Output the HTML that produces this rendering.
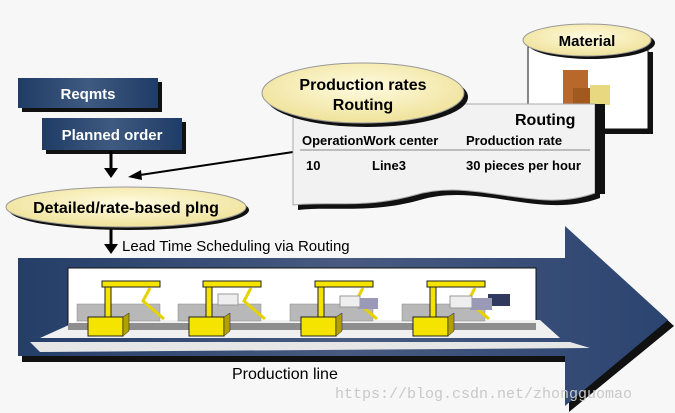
<!DOCTYPE html>
<html><head><style>body{margin:0;background:#f7f7f7}svg{display:block}text{font-family:"Liberation Sans",Arial,sans-serif}</style></head><body>
<svg width="675" height="413" viewBox="0 0 675 413">
<defs>
<linearGradient id="bl" x1="0" y1="0" x2="1" y2="0"><stop offset="0" stop-color="#1f3c66"/><stop offset="0.5" stop-color="#3f5a80"/><stop offset="1" stop-color="#1f3c66"/></linearGradient>
<linearGradient id="ar" x1="0" y1="0" x2="1" y2="0"><stop offset="0" stop-color="#243e68"/><stop offset="0.5" stop-color="#485a80"/><stop offset="1" stop-color="#2b4470"/></linearGradient>
<radialGradient id="el" cx="0.5" cy="0.4" r="0.6"><stop offset="0" stop-color="#fffbe0"/><stop offset="1" stop-color="#efe29a"/></radialGradient>
<g id="robot">
<rect x="-25" y="24" width="83" height="17" fill="#b8b8b8" stroke="#888" stroke-width="0.5"/>
<rect x="-14" y="37" width="35" height="19" fill="#f5e400" stroke="#222"/>
<polygon points="21,37 27,33 27,51 21,56" fill="#b0a000" stroke="#222" stroke-width="0.5"/>
<rect x="3" y="7" width="6" height="30" fill="#f5e400" stroke="#222"/>
<rect x="0" y="1" width="58" height="6" fill="#f5e400" stroke="#222"/>
<polyline points="48,8 41,21 62,39" fill="none" stroke="#e6d200" stroke-width="3"/>
</g>
</defs>
<rect width="675" height="413" fill="#f7f7f7"/>
<rect x="22" y="82" width="140" height="30" fill="#111"/>
<rect x="18" y="78" width="140" height="30" fill="url(#bl)"/>
<text x="88" y="99" font-size="15" font-weight="bold" fill="#fff" text-anchor="middle">Reqmts</text>
<rect x="46" y="122" width="140" height="32" fill="#111"/>
<rect x="42" y="118" width="140" height="32" fill="url(#bl)"/>
<text x="112" y="140" font-size="15" font-weight="bold" fill="#fff" text-anchor="middle">Planned order</text>
<line x1="111" y1="151" x2="111" y2="170" stroke="#000" stroke-width="3"/>
<polygon points="104,168 118,168 111,178" fill="#000"/>
<line x1="293" y1="152" x2="140" y2="175" stroke="#000" stroke-width="2"/>
<polygon points="128,177 141,170 142,180" fill="#000"/>
<ellipse cx="129" cy="210" rx="120" ry="20" fill="#111"/>
<ellipse cx="126" cy="207" rx="120" ry="20" fill="url(#el)" stroke="#999"/>
<text x="126" y="213" font-size="16" font-weight="bold" fill="#000" text-anchor="middle" style="font-weight:600">Detailed/rate-based plng</text>
<line x1="111" y1="229" x2="111" y2="246" stroke="#000" stroke-width="3"/>
<polygon points="104,244 118,244 111,254" fill="#000"/>
<text x="122" y="251" font-size="15" fill="#000">Lead Time Scheduling via Routing</text>
<polygon points="22,262 569,262 569,230 674,326 569,412 569,362 22,362" fill="#111"/>
<polygon points="18,258 565,258 565,226 668,320 565,406 565,356 18,356" fill="url(#ar)"/>
<rect x="68" y="268" width="468" height="68" fill="#fff" stroke="#111"/>
<polygon points="40,338 80,320 540,320 560,338" fill="#f0f0f0"/>
<polygon points="30,342 570,342 590,348 40,352" fill="#e6e6e6"/>
<rect x="68" y="323" width="468" height="7" fill="#8e8e8e"/>
<use href="#robot" x="102" y="280"/>
<use href="#robot" x="203" y="280"/>
<use href="#robot" x="315" y="280"/>
<use href="#robot" x="427" y="280"/>
<rect x="488" y="294" width="22" height="12" fill="#303a5e"/>
<rect x="470" y="298" width="22" height="12" fill="#9a9ab8"/>
<rect x="450" y="296" width="22" height="12" fill="#eee" stroke="#999"/>
<rect x="358" y="298" width="20" height="11" fill="#9a9ab8"/>
<rect x="340" y="296" width="20" height="11" fill="#eee" stroke="#999"/>
<rect x="218" y="294" width="20" height="11" fill="#eee" stroke="#999"/>
<text x="232" y="379" font-size="16" fill="#000">Production line</text>
<text x="335" y="398" font-size="15" fill="#c8c8c8" style="font-family:'Liberation Mono',monospace">https://blog.csdn.net/zhongguomao</text>
<rect x="533" y="52" width="120" height="82" fill="#111"/>
<rect x="528" y="47" width="120" height="82" fill="#fff" stroke="#111"/>
<rect x="563" y="70" width="25" height="35" fill="#b8682a"/>
<rect x="573" y="88" width="22" height="18" fill="#a05a20"/>
<rect x="590" y="85" width="20" height="20" fill="#e8d880"/>
<ellipse cx="591" cy="43" rx="64" ry="16" fill="#111"/>
<ellipse cx="587" cy="40" rx="64" ry="16" fill="url(#el)" stroke="#999"/>
<text x="587" y="46" font-size="15" font-weight="bold" fill="#000" text-anchor="middle">Material</text>
<path d="M298,109 L600,109 L600,198 C540,220 480,182 420,200 C370,214 330,206 298,210 Z" fill="#111"/>
<path d="M293,104 L595,104 L595,193 C535,215 475,177 415,195 C365,209 325,201 293,205 Z" fill="#f2f2f2" stroke="#aaa"/>
<text x="515" y="125" font-size="16" fill="#000" font-weight="bold">Routing</text>
<text x="302" y="145" font-size="13" fill="#000" font-weight="bold">OperationWork center</text>
<text x="466" y="145" font-size="13" fill="#000" font-weight="bold">Production rate</text>
<line x1="300" y1="150" x2="590" y2="150" stroke="#888"/>
<text x="306" y="170" font-size="13" fill="#000" font-weight="bold">10</text>
<text x="372" y="170" font-size="13" fill="#000" font-weight="bold">Line3</text>
<text x="466" y="170" font-size="13" fill="#000" font-weight="bold">30 pieces per hour</text>
<rect x="595" y="104" width="10" height="90" fill="#111"/>
<ellipse cx="367" cy="97" rx="101" ry="30" fill="#111"/>
<ellipse cx="363" cy="93" rx="101" ry="30" fill="url(#el)" stroke="#999"/>
<text x="363" y="90" font-size="16" font-weight="bold" fill="#000" text-anchor="middle">Production rates</text>
<text x="363" y="110" font-size="16" font-weight="bold" fill="#000" text-anchor="middle">Routing</text>
</svg>
</body></html>
